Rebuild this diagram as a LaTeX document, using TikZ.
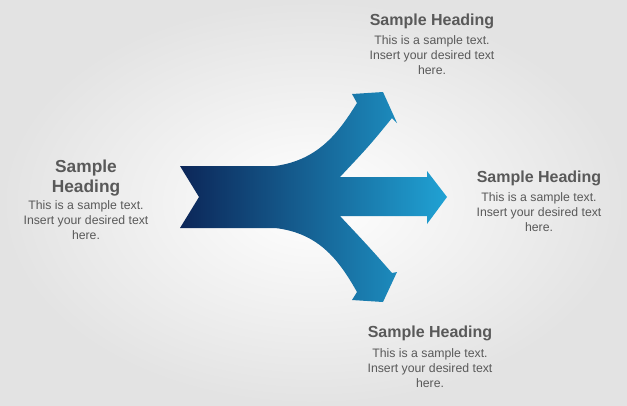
\documentclass[tikz,border=0pt]{standalone}
\usepackage{fontspec}
\setmainfont{Liberation Sans}
\definecolor{txt}{HTML}{595959}
\definecolor{dark}{RGB}{12,38,88}
\definecolor{light}{RGB}{32,162,212}
\begin{document}
\begin{tikzpicture}[x=0.75pt,y=-0.75pt,
  head/.style={font=\fontsize{12}{13}\selectfont\bfseries,text=txt,align=center},
  body/.style={font=\fontsize{9.2}{11.3}\selectfont,text=txt,align=center}]
\useasboundingbox (0,0) rectangle (627,405);
\shade[inner color=white,outer color=black!11] (0,0) rectangle (627,405);
\path[left color=dark,right color=light,shading angle=90] (180,166) -- (275,166)
  .. controls (320,160) and (340,130) .. (357,103) -- (352,94) -- (383,92) -- (397,123) -- (392,118)
  .. controls (370,145) .. (340,177) -- (427,177) -- (427,171) -- (447,197) -- (427,224) -- (427,216)
  -- (340,216) .. controls (370,248) .. (392,273) -- (397,272) -- (383,302) -- (352,300) -- (357,292)
  .. controls (340,262) and (320,233) .. (275,228) -- (180,228) -- (199,197) -- cycle;
\node[head] (h1) at (432,21) {Sample Heading};
\node[body,anchor=north] (b1) at (432,31) {This is a sample text.\\Insert  your desired text\\here.};
\node[head] (h2) at (539,178) {Sample Heading};
\node[body,anchor=north] (b2) at (539,188) {This is a sample text.\\Insert  your desired text\\here.};
\node[head] (h3) at (430,333) {Sample Heading};
\node[body,anchor=north] (b3) at (430,344) {This is a sample text.\\Insert  your desired text\\here.};
\node[head,font=\fontsize{13}{15.5}\selectfont\bfseries] (h4) at (86,178) {Sample\\Heading};
\node[body,anchor=north] (b4) at (86,196) {This is a sample text.\\Insert  your desired text\\here.};
\end{tikzpicture}
\end{document}
